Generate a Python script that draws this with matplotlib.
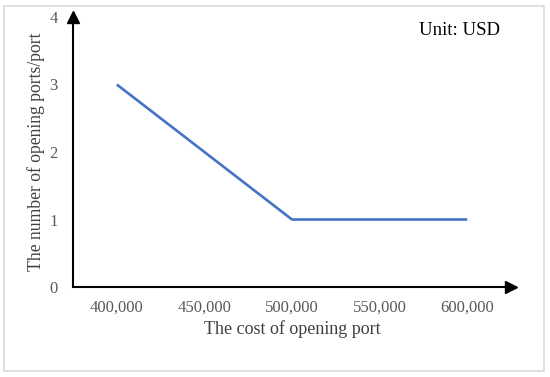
import matplotlib.pyplot as plt
from matplotlib.patches import Rectangle

costs = [400000, 500000, 600000]
ports = [3, 1, 1]
xticks = [400000, 450000, 500000, 550000, 600000]
yticks = [0, 1, 2, 3, 4]

plt.rcParams['font.family'] = ['Liberation Serif', 'DejaVu Serif']

fig = plt.figure(figsize=(5.5, 3.77), dpi=100)
# outer frame
fig.patches.append(Rectangle((4 / 550, 6 / 377), 540 / 550, 365 / 377,
                             transform=fig.transFigure, fill=False,
                             edgecolor='#d9d9d9', linewidth=1.2))

ax = fig.add_axes([73 / 550, 1 - 287 / 377, 438 / 550, 270 / 377])
ax.plot(costs, ports, color='#4472C4', linewidth=1.9, solid_capstyle='butt')

ax.set_xlim(375000, 625000)
ax.set_ylim(0, 4)
ax.set_xticks(xticks)
ax.set_xticklabels([f'{v:,}' for v in xticks])
ax.set_yticks(yticks)
ax.tick_params(length=0, labelsize=12, colors='#595959', pad=9)
ax.tick_params(axis='y', pad=11)

for s in ['top', 'right']:
    ax.spines[s].set_visible(False)
for s in ['left', 'bottom']:
    ax.spines[s].set_linewidth(1.5)

# arrow heads
ax.plot(1, 0, '>k', markersize=8, transform=ax.transAxes, clip_on=False)
ax.plot(0, 1, '^k', markersize=8, transform=ax.transAxes, clip_on=False)

ax.set_xlabel('The cost of opening port', fontsize=13, color='#404040', labelpad=3)
ax.set_ylabel('The number of opening ports/port', fontsize=12.7, color='#404040', labelpad=3)

ax.text(0.975, 0.95, 'Unit: USD', transform=ax.transAxes, fontsize=13.5,
        ha='right', va='center')

fig.savefig('out.png', dpi=100)
